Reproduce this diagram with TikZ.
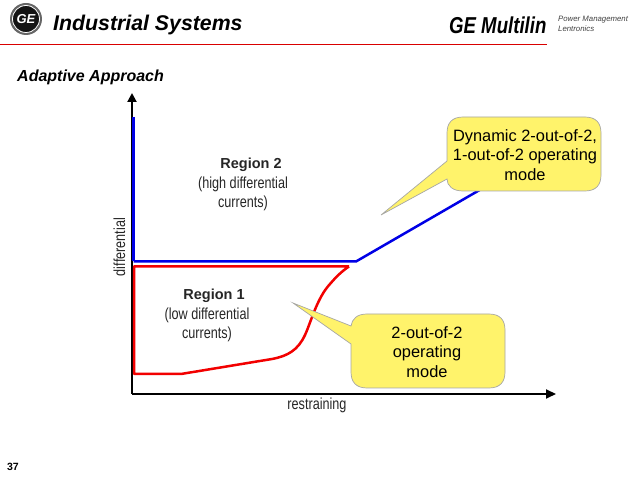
\documentclass[tikz,border=0pt]{standalone}
\usepackage{fontspec}
\setmainfont{Liberation Sans}
\usetikzlibrary{arrows.meta}
\definecolor{calloutfill}{HTML}{FFF36B}
\begin{document}
\begin{tikzpicture}[x=1pt,y=-1pt,
  lbl/.style={inner sep=0pt,align=center,text=black!85},
  thin text/.style={lbl,font=\fontsize{16}{19.7}\selectfont},
  callout text/.style={lbl,font=\fontsize{16.4}{19.3}\selectfont,text=black},
  callout/.style={fill=calloutfill,draw=black!35,line width=0.7pt},
  axis/.style={line width=2pt,black},
  red curve/.style={line width=2.5pt,red!95!black,line join=round},
  blue curve/.style={line width=2.5pt,blue!90!black,line join=round}]
\useasboundingbox (0,0) rectangle (638,478);
% header
\node[circle,fill=black!60,minimum size=32pt,inner sep=0pt] (logo) at (26,19) {};
\node[circle,fill=black!92,draw=white,line width=0.8pt,minimum size=27pt,inner sep=0pt,font=\fontsize{13}{13}\selectfont\itshape\bfseries,text=white] (ge) at (26,19) {GE};
\node[lbl,anchor=west,font=\fontsize{21.3}{23}\selectfont\itshape\bfseries,text=black] (title) at (53,24.5) {Industrial Systems};
\coordinate (rl) at (0,44.5);
\coordinate (rr) at (547,44.5);
\draw[red!85!black,line width=1.4pt] (rl) -- (rr);
\node[lbl,anchor=west,font=\fontsize{23}{24}\selectfont\itshape\bfseries,text=black,xscale=0.81] (gem) at (449,25) {GE Multilin};
\node[lbl,anchor=north west,align=left,font=\fontsize{7.8}{10}\selectfont\itshape,text=black!75] (pm) at (558,16) {Power Management\\Lentronics};
\node[lbl,anchor=west,font=\fontsize{16}{17}\selectfont\itshape\bfseries,text=black] (sub) at (17,77) {Adaptive Approach};
% axes
\coordinate (o) at (132,394);
\coordinate (ytop) at (132,93);
\coordinate (xend) at (556,394);
\draw[axis,-{Triangle[length=9pt,width=9pt]}] (o) -- (ytop);
\draw[axis,-{Triangle[length=10pt,width=9pt]}] (o) -- (xend);
% blue characteristic
\coordinate (b1) at (133.5,117);
\coordinate (b2) at (133.5,261.5);
\coordinate (b3) at (356,261.5);
\coordinate (b4) at (490,184);
\draw[blue curve,line width=3.4pt] (b1) -- (b2);
\draw[blue curve] (b2) -- (b3) -- (b4);
% red characteristic
\coordinate (r1) at (349,266.5);
\coordinate (r2) at (134,266.5);
\coordinate (r3) at (134,374);
\coordinate (r4) at (181,374);
\coordinate (r5) at (272,359);
\draw[red curve] (r1) -- (r2) -- (r3) -- (r4) -- (r5)
  .. controls (288,356) and (298,350) .. (305,335)
  .. controls (311,322) and (317,298) .. (330,284)
  .. controls (336,277) and (342,271) .. (r1);
% callouts
\draw[callout] (463,117) -- (585,117)
  .. controls (596,117) and (601,123) .. (601,133)
  -- (601,175)
  .. controls (601,185) and (596,191) .. (585,191)
  -- (463,191)
  .. controls (453,191) and (447,186) .. (447,179)
  -- (381,215) -- (447,161) -- (447,133)
  .. controls (447,123) and (452,117) .. (463,117) -- cycle;
\node[callout text] (dyn) at (525,155) {Dynamic 2-out-of-2,\\1-out-of-2 operating\\mode};
\draw[callout] (367,314) -- (489,314)
  .. controls (500,314) and (505,320) .. (505,330)
  -- (505,372)
  .. controls (505,382) and (500,388) .. (489,388)
  -- (367,388)
  .. controls (356,388) and (351,382) .. (351,372)
  -- (351,344) -- (293,303) -- (351,326)
  .. controls (352,319) and (357,314) .. (367,314) -- cycle;
\node[callout text] (two) at (427,352) {2-out-of-2\\operating\\mode};
% region labels
\node[lbl,font=\fontsize{14.5}{18}\selectfont\bfseries] (r2t) at (251,165) {Region 2};
\node[thin text,xscale=0.79] (r2d) at (243,194) {(high differential\\currents)};
\node[lbl,font=\fontsize{14.5}{18}\selectfont\bfseries] (r1t) at (214,296) {Region 1};
\node[thin text,xscale=0.79] (r1d) at (207,325) {(low differential\\currents)};
\node[thin text,xscale=0.79] (xl) at (317,405.5) {restraining};
\node[thin text,rotate=90,xscale=0.79] (yl) at (119.5,247) {differential};
\node[lbl,font=\fontsize{10.5}{12}\selectfont\bfseries,text=black] (pg) at (13,467) {37};
\end{tikzpicture}
\end{document}
